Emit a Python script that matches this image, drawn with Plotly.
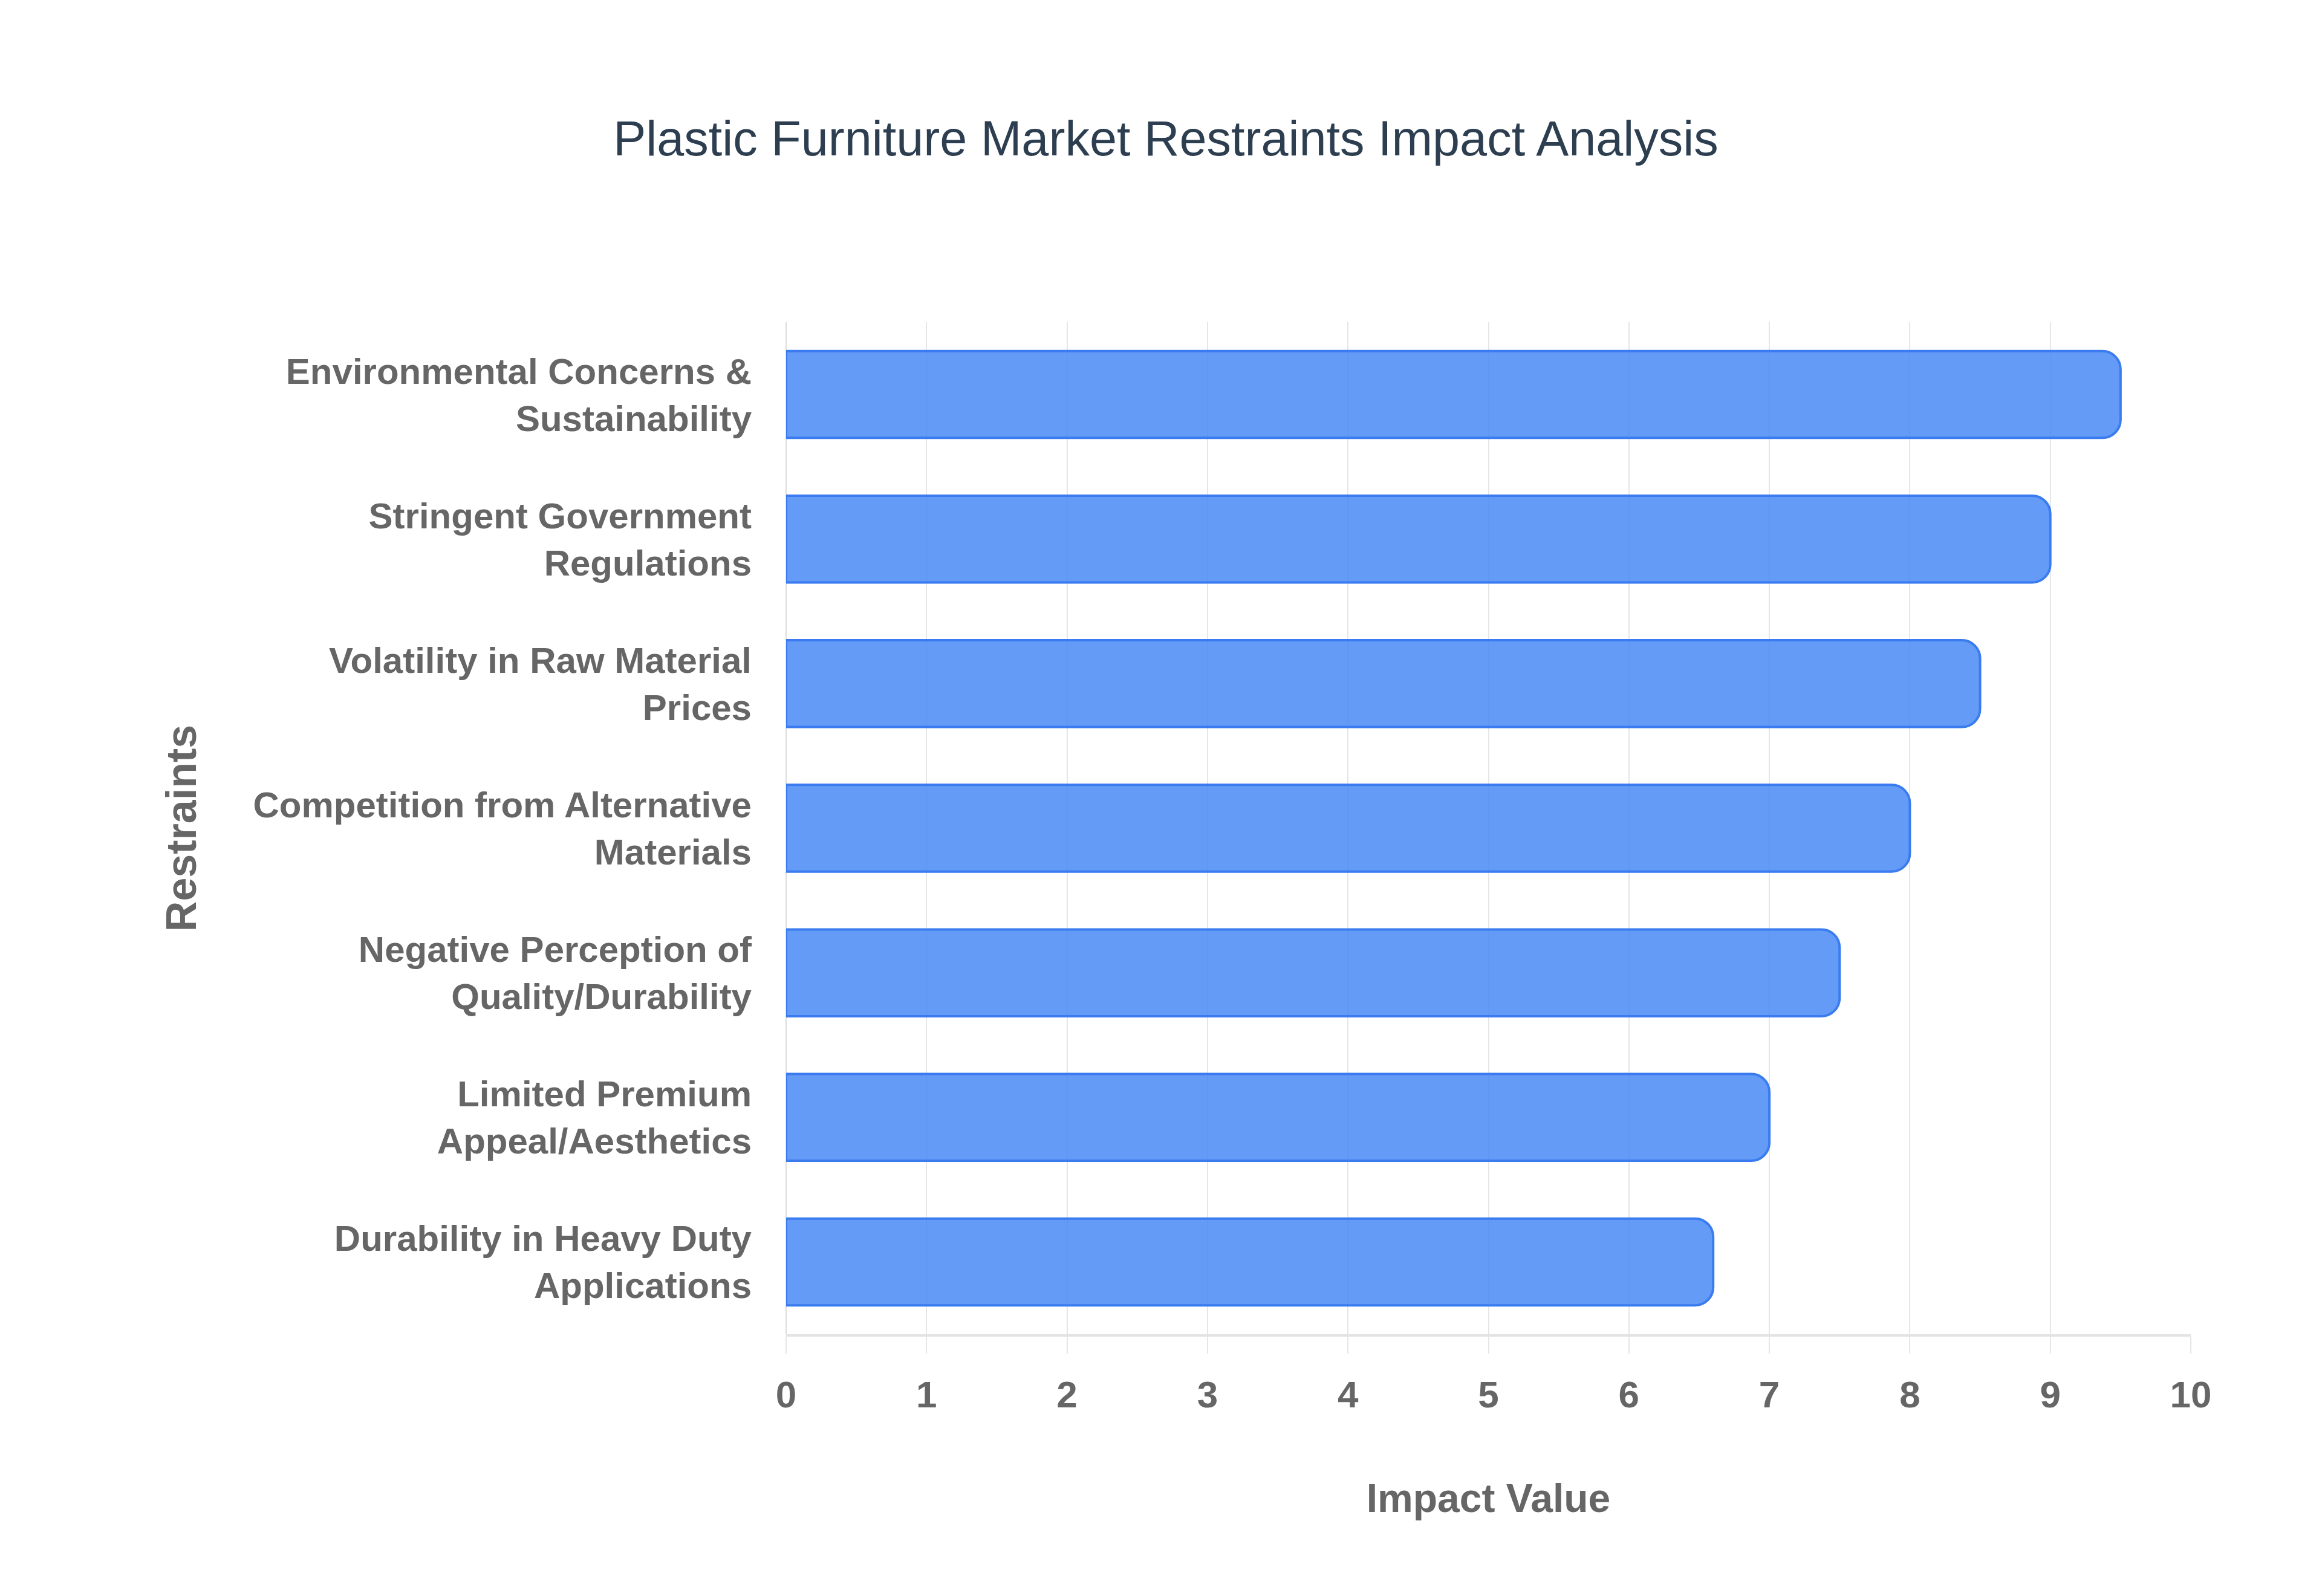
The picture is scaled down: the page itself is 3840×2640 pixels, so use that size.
import plotly.graph_objects as go

restraints = [
    "Environmental Concerns &<br>Sustainability",
    "Stringent Government<br>Regulations",
    "Volatility in Raw Material<br>Prices",
    "Competition from Alternative<br>Materials",
    "Negative Perception of<br>Quality/Durability",
    "Limited Premium<br>Appeal/Aesthetics",
    "Durability in Heavy Duty<br>Applications",
]
impact_values = [9.5, 9.0, 8.5, 8.0, 7.5, 7.0, 6.6]
x_ticks = [0, 1, 2, 3, 4, 5, 6, 7, 8, 9, 10]

FONT = "Liberation Sans, Arial, Helvetica, sans-serif"

fig = go.Figure(
    go.Bar(
        x=impact_values,
        y=restraints,
        orientation="h",
        marker=dict(
            color="rgba(66,133,244,0.82)",
            line=dict(color="rgb(58,124,240)", width=4),
        ),
        hoverinfo="x+y",
    )
)

fig.update_layout(
    width=3840,
    height=2640,
    paper_bgcolor="white",
    plot_bgcolor="white",
    margin=dict(l=1292, r=225, t=525, b=441),
    bargap=0.4,
    barcornerradius=30,
    showlegend=False,
    title=dict(
        text="Plastic Furniture Market Restraints Impact Analysis",
        x=0.5,
        xanchor="center",
        y=1 - 221 / 2640,
        yanchor="middle",
        font=dict(family=FONT, size=81, color="#2c3e50"),
    ),
    font=dict(family=FONT, color="#666666"),
)

fig.update_xaxes(
    range=[0, 10],
    tickvals=x_ticks,
    ticktext=[str(v) for v in x_ticks],
    showgrid=True,
    gridcolor="#e6e6e6",
    gridwidth=2,
    zeroline=True,
    zerolinecolor="#dcdcdc",
    zerolinewidth=2,
    showline=True,
    linecolor="#e3e3e3",
    linewidth=4,
    ticks="outside",
    ticklen=28,
    tickwidth=2,
    tickcolor="#e6e6e6",
    ticklabelstandoff=15,
    tickfont=dict(family=FONT, size=62, color="#666666", weight="bold"),
    title=dict(
        text="<b>Impact Value</b>",
        font=dict(family=FONT, size=66, color="#666666"),
        standoff=115,
    ),
)

fig.update_yaxes(
    autorange="reversed",
    showgrid=False,
    zeroline=False,
    showline=False,
    ticks="outside",
    ticklen=44,
    tickcolor="rgba(0,0,0,0)",
    tickfont=dict(family=FONT, size=60, color="#666666", weight="bold"),
    title=dict(
        text="<b>Restraints</b>",
        font=dict(family=FONT, size=70, color="#666666"),
        standoff=70,
    ),
)

fig.write_html("out.html")
